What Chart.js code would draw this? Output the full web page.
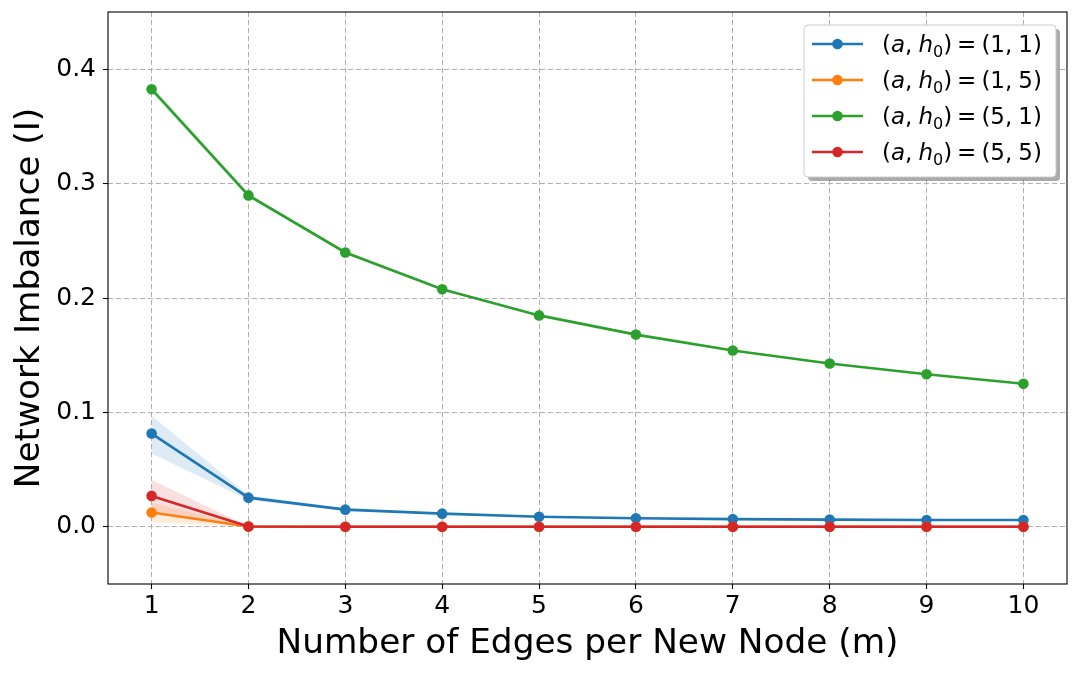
<!DOCTYPE html>
<html>
<head>
<meta charset="utf-8">
<script src="https://cdn.jsdelivr.net/npm/chart.js@4.4.0/dist/chart.umd.min.js"></script>
<style>
html,body{margin:0;padding:0;background:#fff;}
canvas{display:block;}
</style>
</head>
<body>
<canvas id="c" width="1080" height="675"></canvas>
<script>
// ---- data ----
const mValues = [1, 2, 3, 4, 5, 6, 7, 8, 9, 10];
const xTicks = [1, 2, 3, 4, 5, 6, 7, 8, 9, 10];
const yTicks = [0.0, 0.1, 0.2, 0.3, 0.4];

const mean_1_1 = [0.0815, 0.0255, 0.0150, 0.0115, 0.0088, 0.0075, 0.0067, 0.0063, 0.0060, 0.0059];
const low_1_1  = [0.0640, 0.0235, 0.0140, 0.0109, 0.0083, 0.0071, 0.0064, 0.0060, 0.0057, 0.0056];
const high_1_1 = [0.0970, 0.0275, 0.0160, 0.0121, 0.0093, 0.0079, 0.0070, 0.0066, 0.0063, 0.0062];

const mean_1_5 = [0.0125, 0.0003, 0.0001, 0.0000, 0.0000, 0.0000, 0.0000, 0.0000, 0.0000, 0.0000];
const low_1_5  = [0.0040, 0.0000, 0.0000, 0.0000, 0.0000, 0.0000, 0.0000, 0.0000, 0.0000, 0.0000];
const high_1_5 = [0.0210, 0.0006, 0.0002, 0.0000, 0.0000, 0.0000, 0.0000, 0.0000, 0.0000, 0.0000];

const mean_5_1 = [0.3825, 0.2897, 0.2398, 0.2076, 0.1848, 0.1680, 0.1541, 0.1428, 0.1333, 0.1250];
const low_5_1  = [0.3795, 0.2879, 0.2386, 0.2066, 0.1840, 0.1673, 0.1535, 0.1423, 0.1328, 0.1246];
const high_5_1 = [0.3855, 0.2915, 0.2410, 0.2086, 0.1856, 0.1687, 0.1547, 0.1433, 0.1338, 0.1254];

const mean_5_5 = [0.0270, 0.0002, 0.0000, 0.0000, 0.0000, 0.0000, 0.0000, 0.0000, 0.0000, 0.0000];
const low_5_5  = [0.0130, 0.0000, 0.0000, 0.0000, 0.0000, 0.0000, 0.0000, 0.0000, 0.0000, 0.0000];
const high_5_5 = [0.0410, 0.0005, 0.0000, 0.0000, 0.0000, 0.0000, 0.0000, 0.0000, 0.0000, 0.0000];

const seriesParams = [['1', '1'], ['1', '5'], ['5', '1'], ['5', '5']];
const seriesColors = ['#1f77b4', '#ff7f0e', '#2ca02c', '#d62728'];
const bandColors = ['rgba(31,119,180,0.15)', 'rgba(255,127,14,0.15)', 'rgba(44,160,44,0.15)', 'rgba(214,39,40,0.15)'];
const seriesMeans = [mean_1_1, mean_1_5, mean_5_1, mean_5_5];
const seriesLows = [low_1_1, low_1_5, low_5_1, low_5_5];
const seriesHighs = [high_1_1, high_1_5, high_5_1, high_5_5];

const xTitle = 'Number of Edges per New Node (m)';
const yTitle = 'Network Imbalance (I)';

// ---- build datasets ----
const toPts = arr => mValues.map((m, i) => ({x: m, y: arr[i]}));
const datasets = [];
seriesMeans.forEach((mean, s) => {
  const lowIdx = datasets.length;
  datasets.push({
    data: toPts(seriesLows[s]), borderWidth: 0, pointRadius: 0, fill: false,
    order: 20 + s, borderColor: 'rgba(0,0,0,0)'
  });
  datasets.push({
    data: toPts(seriesHighs[s]), borderWidth: 0, pointRadius: 0,
    fill: {target: lowIdx}, backgroundColor: bandColors[s],
    order: 20 + s, borderColor: 'rgba(0,0,0,0)'
  });
  datasets.push({
    data: toPts(mean), borderColor: seriesColors[s], backgroundColor: seriesColors[s],
    borderWidth: 2.6, pointRadius: 5.3, pointHoverRadius: 5.3,
    pointBorderWidth: 0, fill: false, tension: 0, order: 10 - s
  });
});

const FONT = '"DejaVu Sans", "Liberation Sans", sans-serif';

const framePlugin = {
  id: 'frameAndLegend',
  afterDraw(chart) {
    const {ctx, chartArea: a} = chart;
    ctx.save();
    ctx.strokeStyle = '#000';
    ctx.lineWidth = 1.1;
    ctx.strokeRect(a.left, a.top, a.right - a.left, a.bottom - a.top);

    // legend
    const bx = 804, by = 25, bw = 252, bh = 152, r = 4;
    const rr = (x, y, w, h) => {
      ctx.beginPath();
      ctx.moveTo(x + r, y);
      ctx.lineTo(x + w - r, y); ctx.quadraticCurveTo(x + w, y, x + w, y + r);
      ctx.lineTo(x + w, y + h - r); ctx.quadraticCurveTo(x + w, y + h, x + w - r, y + h);
      ctx.lineTo(x + r, y + h); ctx.quadraticCurveTo(x, y + h, x, y + h - r);
      ctx.lineTo(x, y + r); ctx.quadraticCurveTo(x, y, x + r, y);
      ctx.closePath();
    };
    rr(bx + 4, by + 4, bw, bh);
    ctx.fillStyle = 'rgba(0,0,0,0.33)';
    ctx.fill();
    rr(bx, by, bw, bh);
    ctx.fillStyle = '#fff';
    ctx.fill();
    ctx.strokeStyle = '#cccccc';
    ctx.lineWidth = 1;
    ctx.stroke();

    const rows = [44, 80, 116, 152];
    seriesParams.forEach((p, i) => {
      const y = rows[i];
      ctx.strokeStyle = seriesColors[i];
      ctx.lineWidth = 2.6;
      ctx.beginPath(); ctx.moveTo(812, y); ctx.lineTo(863, y); ctx.stroke();
      ctx.fillStyle = seriesColors[i];
      ctx.beginPath(); ctx.arc(837.5, y, 5.3, 0, Math.PI * 2); ctx.fill();

      ctx.fillStyle = '#000';
      ctx.textBaseline = 'alphabetic';
      ctx.textAlign = 'left';
      const base = y + 8;
      let x = 882;
      const N = '23px ' + FONT, I = 'oblique 23px ' + FONT, S = '16px ' + FONT;
      const pieces = [
        ['(', N, 0, 0], ['a', I, 0, 0], [',', N, 0, 6], ['h', I, 0, 0], ['0', S, 5, 0],
        [')', N, 0, 5], ['=', N, 0, 5], ['(' + p[0] + ',', N, 0, 6], [p[1] + ')', N, 0, 0]
      ];
      pieces.forEach(([t, f, dy, gap]) => {
        ctx.font = f;
        ctx.fillText(t, x, base + dy);
        x += ctx.measureText(t).width + gap;
      });
    });
    ctx.restore();
  }
};

new Chart(document.getElementById('c'), {
  type: 'line',
  data: {datasets},
  plugins: [framePlugin],
  options: {
    responsive: false,
    animation: false,
    devicePixelRatio: 1,
    layout: {padding: {left: 0, top: 12, right: 13, bottom: 0}},
    plugins: {legend: {display: false}, tooltip: {enabled: false}},
    elements: {line: {tension: 0}},
    scales: {
      x: {
        type: 'linear', min: 0.55, max: 10.45,
        afterBuildTicks: s => { s.ticks = xTicks.map(v => ({value: v})); },
        afterFit: s => { s.height = 91; s.paddingLeft = 0; s.paddingRight = 0; },
        grid: {color: '#b0b0b0', lineWidth: 1, tickLength: 5, tickColor: '#000', tickWidth: 1.1, tickBorderDash: []},
        border: {display: false, dash: [5, 3]},
        ticks: {color: '#000', font: {family: FONT, size: 25, lineHeight: 1.2}, padding: 2,
                callback: v => String(v), maxRotation: 0, autoSkip: false},
        title: {display: true, text: xTitle, color: '#000', font: {family: FONT, size: 34.3, lineHeight: 1}, padding: {top: 0, bottom: 14}}
      },
      y: {
        type: 'linear', min: -0.05, max: 0.45,
        afterBuildTicks: s => { s.ticks = yTicks.map(v => ({value: v})); },
        afterFit: s => { s.width = 108; s.paddingTop = 0; s.paddingBottom = 0; },
        grid: {color: '#b0b0b0', lineWidth: 1, tickLength: 5, tickColor: '#000', tickWidth: 1.1, tickBorderDash: []},
        border: {display: false, dash: [5, 3]},
        ticks: {color: '#000', font: {family: FONT, size: 25}, padding: 7,
                callback: v => v.toFixed(1), autoSkip: false},
        title: {display: true, text: yTitle, color: '#000', font: {family: FONT, size: 34.3, lineHeight: 1}, padding: {top: 13, bottom: 0}}
      }
    }
  }
});
</script>
</body>
</html>
